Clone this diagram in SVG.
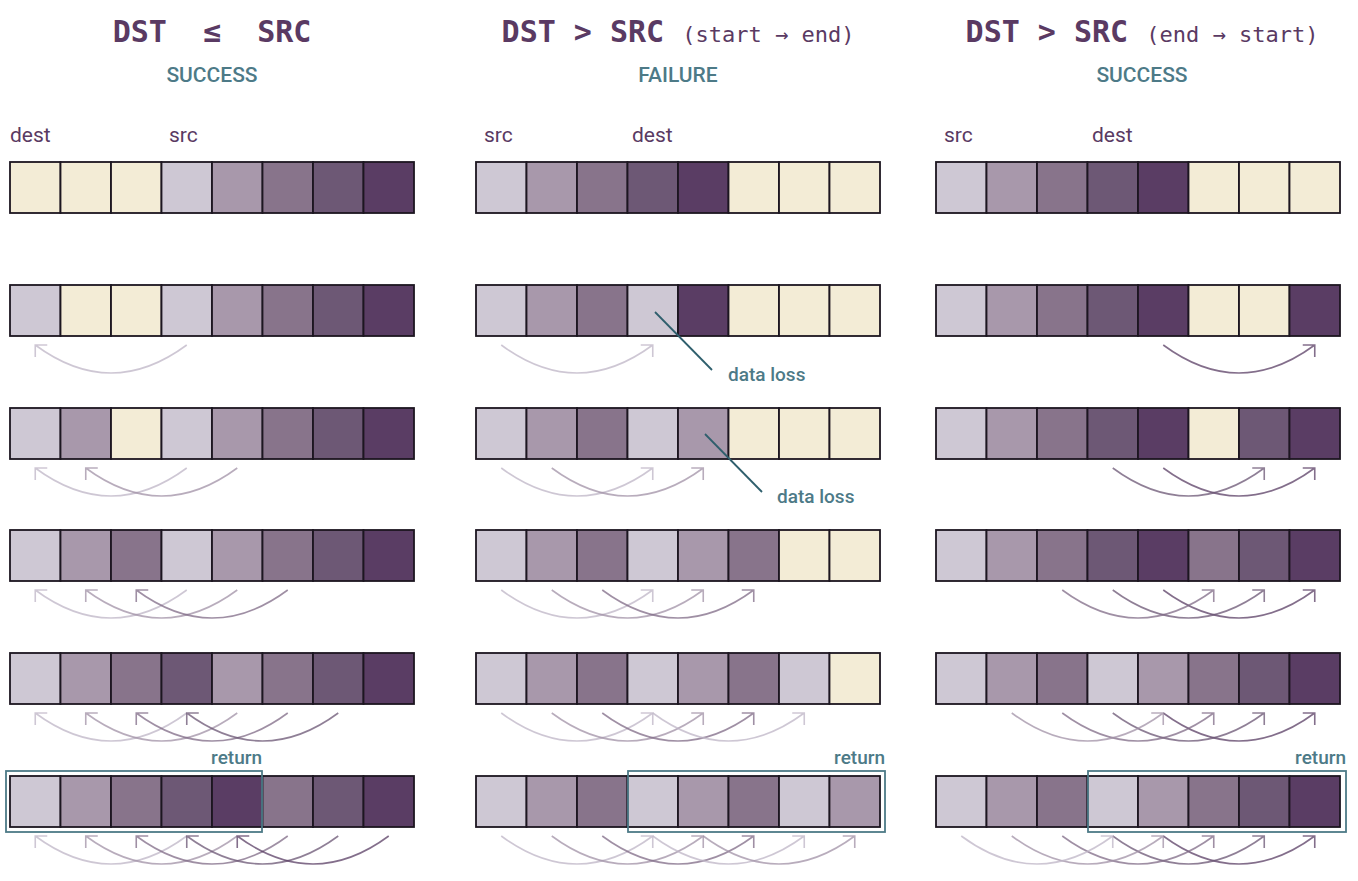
<svg xmlns="http://www.w3.org/2000/svg" xmlns:xlink="http://www.w3.org/1999/xlink" width="1358" height="881" viewBox="0 0 1358 881">
<style>
.t{font-family:"DejaVu Sans Mono",monospace;font-weight:bold;font-size:30px;fill:#5a3a63}
.tm{font-family:"DejaVu Sans Mono",monospace;font-weight:normal;font-size:22px}
.st{font-family:Roboto,"Liberation Sans",sans-serif;font-size:21px;fill:#4d7a87;font-weight:500}
.lb{font-family:Roboto,"Liberation Sans",sans-serif;font-size:21px;fill:#5a3a63}
.tl{font-family:Roboto,"Liberation Sans",sans-serif;font-size:19px;fill:#4d7a87;font-weight:500}
rect.c{stroke:#1c1620;stroke-width:1.8;width:50.5px;height:51px}
.c0{fill:#f3ecd6}.c1{fill:#cec8d4}.c2{fill:#a898ab}.c3{fill:#88748b}.c4{fill:#6d5875}.c5{fill:#5a3d64}
.a{fill:none;stroke-width:1.6;opacity:.75}
.a1{stroke:#bdb4c5}.a2{stroke:#a090a5}.a3{stroke:#7f6a85}.a4{stroke:#6a5473}.a5{stroke:#5a3d64}
.box{fill:none;stroke:#4d7a87;stroke-width:1.8}
.dl{stroke:#2f5f6d;stroke-width:1.8}
</style>
<defs>
<path id="al" d="M151.5 0 Q75.75 56 0 0 M12 0 L0 0 L0 12"/>
<path id="ar" d="M0 0 Q75.75 56 151.5 0 M139.5 0 L151.5 0 L151.5 12"/>
<g id="row">
</g>
</defs>
<g id="titles">
<text class="t" x="212" y="42" text-anchor="middle" xml:space="preserve">DST  ≤  SRC</text>
<text class="st" x="212" y="82" text-anchor="middle">SUCCESS</text>
<text class="t" x="678" y="42" text-anchor="middle" xml:space="preserve">DST &gt; SRC <tspan class="tm">(start → end)</tspan></text>
<text class="st" x="678" y="82" text-anchor="middle">FAILURE</text>
<text class="t" x="1142" y="42" text-anchor="middle" xml:space="preserve">DST &gt; SRC <tspan class="tm">(end → start)</tspan></text>
<text class="st" x="1142" y="82" text-anchor="middle">SUCCESS</text>
<text class="lb" x="10" y="142">dest</text>
<text class="lb" x="169" y="142">src</text>
<text class="lb" x="484" y="142">src</text>
<text class="lb" x="632" y="142">dest</text>
<text class="lb" x="944" y="142">src</text>
<text class="lb" x="1092" y="142">dest</text>
</g>
<g id="left">
<g transform="translate(10,162)"><rect class="c c0" x="0"/><rect class="c c0" x="50.5"/><rect class="c c0" x="101"/><rect class="c c1" x="151.5"/><rect class="c c2" x="202"/><rect class="c c3" x="252.5"/><rect class="c c4" x="303"/><rect class="c c5" x="353.5"/></g>
<g transform="translate(10,285)"><rect class="c c1" x="0"/><rect class="c c0" x="50.5"/><rect class="c c0" x="101"/><rect class="c c1" x="151.5"/><rect class="c c2" x="202"/><rect class="c c3" x="252.5"/><rect class="c c4" x="303"/><rect class="c c5" x="353.5"/></g>
<g transform="translate(10,408)"><rect class="c c1" x="0"/><rect class="c c2" x="50.5"/><rect class="c c0" x="101"/><rect class="c c1" x="151.5"/><rect class="c c2" x="202"/><rect class="c c3" x="252.5"/><rect class="c c4" x="303"/><rect class="c c5" x="353.5"/></g>
<g transform="translate(10,530)"><rect class="c c1" x="0"/><rect class="c c2" x="50.5"/><rect class="c c3" x="101"/><rect class="c c1" x="151.5"/><rect class="c c2" x="202"/><rect class="c c3" x="252.5"/><rect class="c c4" x="303"/><rect class="c c5" x="353.5"/></g>
<g transform="translate(10,653)"><rect class="c c1" x="0"/><rect class="c c2" x="50.5"/><rect class="c c3" x="101"/><rect class="c c4" x="151.5"/><rect class="c c2" x="202"/><rect class="c c3" x="252.5"/><rect class="c c4" x="303"/><rect class="c c5" x="353.5"/></g>
<g transform="translate(10,776)"><rect class="c c1" x="0"/><rect class="c c2" x="50.5"/><rect class="c c3" x="101"/><rect class="c c4" x="151.5"/><rect class="c c5" x="202"/><rect class="c c3" x="252.5"/><rect class="c c4" x="303"/><rect class="c c5" x="353.5"/></g>
<rect class="box" x="6" y="771" width="256" height="61"/>
<text class="tl" x="262" y="764" text-anchor="end">return</text>
</g>
<g id="middle">
<g transform="translate(476,162)"><rect class="c c1" x="0"/><rect class="c c2" x="50.5"/><rect class="c c3" x="101"/><rect class="c c4" x="151.5"/><rect class="c c5" x="202"/><rect class="c c0" x="252.5"/><rect class="c c0" x="303"/><rect class="c c0" x="353.5"/></g>
<g transform="translate(476,285)"><rect class="c c1" x="0"/><rect class="c c2" x="50.5"/><rect class="c c3" x="101"/><rect class="c c1" x="151.5"/><rect class="c c5" x="202"/><rect class="c c0" x="252.5"/><rect class="c c0" x="303"/><rect class="c c0" x="353.5"/></g>
<g transform="translate(476,408)"><rect class="c c1" x="0"/><rect class="c c2" x="50.5"/><rect class="c c3" x="101"/><rect class="c c1" x="151.5"/><rect class="c c2" x="202"/><rect class="c c0" x="252.5"/><rect class="c c0" x="303"/><rect class="c c0" x="353.5"/></g>
<g transform="translate(476,530)"><rect class="c c1" x="0"/><rect class="c c2" x="50.5"/><rect class="c c3" x="101"/><rect class="c c1" x="151.5"/><rect class="c c2" x="202"/><rect class="c c3" x="252.5"/><rect class="c c0" x="303"/><rect class="c c0" x="353.5"/></g>
<g transform="translate(476,653)"><rect class="c c1" x="0"/><rect class="c c2" x="50.5"/><rect class="c c3" x="101"/><rect class="c c1" x="151.5"/><rect class="c c2" x="202"/><rect class="c c3" x="252.5"/><rect class="c c1" x="303"/><rect class="c c0" x="353.5"/></g>
<g transform="translate(476,776)"><rect class="c c1" x="0"/><rect class="c c2" x="50.5"/><rect class="c c3" x="101"/><rect class="c c1" x="151.5"/><rect class="c c2" x="202"/><rect class="c c3" x="252.5"/><rect class="c c1" x="303"/><rect class="c c2" x="353.5"/></g>
<rect class="box" x="628" y="771" width="257" height="61"/>
<text class="tl" x="885" y="764" text-anchor="end">return</text>
<line class="dl" x1="655" y1="312" x2="712" y2="370"/>
<text class="tl" x="728" y="381">data loss</text>
<line class="dl" x1="705" y1="434" x2="762" y2="492"/>
<text class="tl" x="777" y="503">data loss</text>
</g>
<g id="right">
<g transform="translate(936,162)"><rect class="c c1" x="0"/><rect class="c c2" x="50.5"/><rect class="c c3" x="101"/><rect class="c c4" x="151.5"/><rect class="c c5" x="202"/><rect class="c c0" x="252.5"/><rect class="c c0" x="303"/><rect class="c c0" x="353.5"/></g>
<g transform="translate(936,285)"><rect class="c c1" x="0"/><rect class="c c2" x="50.5"/><rect class="c c3" x="101"/><rect class="c c4" x="151.5"/><rect class="c c5" x="202"/><rect class="c c0" x="252.5"/><rect class="c c0" x="303"/><rect class="c c5" x="353.5"/></g>
<g transform="translate(936,408)"><rect class="c c1" x="0"/><rect class="c c2" x="50.5"/><rect class="c c3" x="101"/><rect class="c c4" x="151.5"/><rect class="c c5" x="202"/><rect class="c c0" x="252.5"/><rect class="c c4" x="303"/><rect class="c c5" x="353.5"/></g>
<g transform="translate(936,530)"><rect class="c c1" x="0"/><rect class="c c2" x="50.5"/><rect class="c c3" x="101"/><rect class="c c4" x="151.5"/><rect class="c c5" x="202"/><rect class="c c3" x="252.5"/><rect class="c c4" x="303"/><rect class="c c5" x="353.5"/></g>
<g transform="translate(936,653)"><rect class="c c1" x="0"/><rect class="c c2" x="50.5"/><rect class="c c3" x="101"/><rect class="c c1" x="151.5"/><rect class="c c2" x="202"/><rect class="c c3" x="252.5"/><rect class="c c4" x="303"/><rect class="c c5" x="353.5"/></g>
<g transform="translate(936,776)"><rect class="c c1" x="0"/><rect class="c c2" x="50.5"/><rect class="c c3" x="101"/><rect class="c c1" x="151.5"/><rect class="c c2" x="202"/><rect class="c c3" x="252.5"/><rect class="c c4" x="303"/><rect class="c c5" x="353.5"/></g>
<rect class="box" x="1088" y="771" width="258" height="61"/>
<text class="tl" x="1346" y="764" text-anchor="end">return</text>
</g>
<g id="connectors">
<use href="#al" class="a a1" x="35.25" y="345"/>
<use href="#al" class="a a1" x="35.25" y="468"/><use href="#al" class="a a2" x="85.75" y="468"/>
<use href="#al" class="a a1" x="35.25" y="590"/><use href="#al" class="a a2" x="85.75" y="590"/><use href="#al" class="a a3" x="136.25" y="590"/>
<use href="#al" class="a a1" x="35.25" y="713"/><use href="#al" class="a a2" x="85.75" y="713"/><use href="#al" class="a a3" x="136.25" y="713"/><use href="#al" class="a a4" x="186.75" y="713"/>
<use href="#al" class="a a1" x="35.25" y="836"/><use href="#al" class="a a2" x="85.75" y="836"/><use href="#al" class="a a3" x="136.25" y="836"/><use href="#al" class="a a4" x="186.75" y="836"/><use href="#al" class="a a5" x="237.25" y="836"/>

<use href="#ar" class="a a1" x="501.25" y="345"/>
<use href="#ar" class="a a1" x="501.25" y="468"/><use href="#ar" class="a a2" x="551.75" y="468"/>
<use href="#ar" class="a a1" x="501.25" y="590"/><use href="#ar" class="a a2" x="551.75" y="590"/><use href="#ar" class="a a3" x="602.25" y="590"/>
<use href="#ar" class="a a1" x="501.25" y="713"/><use href="#ar" class="a a2" x="551.75" y="713"/><use href="#ar" class="a a3" x="602.25" y="713"/><use href="#ar" class="a a1" x="652.75" y="713"/>
<use href="#ar" class="a a1" x="501.25" y="836"/><use href="#ar" class="a a2" x="551.75" y="836"/><use href="#ar" class="a a3" x="602.25" y="836"/><use href="#ar" class="a a1" x="652.75" y="836"/><use href="#ar" class="a a2" x="703.25" y="836"/>

<use href="#ar" class="a a5" x="1163.25" y="345"/>
<use href="#ar" class="a a5" x="1163.25" y="468"/><use href="#ar" class="a a4" x="1112.75" y="468"/>
<use href="#ar" class="a a5" x="1163.25" y="590"/><use href="#ar" class="a a4" x="1112.75" y="590"/><use href="#ar" class="a a3" x="1062.25" y="590"/>
<use href="#ar" class="a a5" x="1163.25" y="713"/><use href="#ar" class="a a4" x="1112.75" y="713"/><use href="#ar" class="a a3" x="1062.25" y="713"/><use href="#ar" class="a a2" x="1011.75" y="713"/>
<use href="#ar" class="a a5" x="1163.25" y="836"/><use href="#ar" class="a a4" x="1112.75" y="836"/><use href="#ar" class="a a3" x="1062.25" y="836"/><use href="#ar" class="a a2" x="1011.75" y="836"/><use href="#ar" class="a a1" x="961.25" y="836"/>
</g>
</svg>
